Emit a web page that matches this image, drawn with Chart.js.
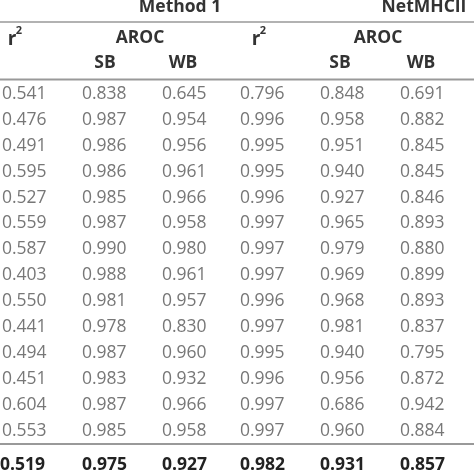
<!DOCTYPE html>
<html><head><meta charset="utf-8">
<script src="https://cdn.jsdelivr.net/npm/chart.js@4"></script>
<style>html,body{margin:0;padding:0;background:#fff}#w{width:474px;height:474px}</style>
</head><body><div id="w"><canvas id="c"></canvas></div>
<script>
const columns = ["r2_m1","SB_m1","WB_m1","r2_net","SB_net","WB_net"];
const r2M1 = [0.541,0.476,0.491,0.595,0.527,0.559,0.587,0.403,0.550,0.441,0.494,0.451,0.604,0.553];
const sbM1 = [0.838,0.987,0.986,0.986,0.985,0.987,0.990,0.988,0.981,0.978,0.987,0.983,0.987,0.985];
const wbM1 = [0.645,0.954,0.956,0.961,0.966,0.958,0.980,0.961,0.957,0.830,0.960,0.932,0.966,0.958];
const r2Net = [0.796,0.996,0.995,0.995,0.996,0.997,0.997,0.997,0.996,0.997,0.995,0.996,0.997,0.997];
const sbNet = [0.848,0.958,0.951,0.940,0.927,0.965,0.979,0.969,0.968,0.981,0.940,0.956,0.686,0.960];
const wbNet = [0.691,0.882,0.845,0.845,0.846,0.893,0.880,0.899,0.893,0.837,0.795,0.872,0.942,0.884];
const meanRow = [0.519,0.975,0.927,0.982,0.931,0.857];
const series = [r2M1,sbM1,wbM1,r2Net,sbNet,wbNet];

const colX = [2,82,162,240,320,400];
const datasets = series.map((s,ci)=>({
  label: columns[ci],
  data: s.map((v,ri)=>({x:colX[ci],y:ri,t:v.toFixed(3),b:false}))
    .concat([{x:colX[ci]-(ci===0?2:0),y:14.32,t:meanRow[ci].toFixed(3),b:true}]),
  pointRadius:0, showLine:false
}));

const FONT = '"Open Sans", sans-serif';
const plugin = {
  id:'tbl',
  afterDraw(chart){
    const ctx = chart.ctx, xs = chart.scales.x, ys = chart.scales.y;
    const X=v=>xs.getPixelForValue(v), Y=v=>ys.getPixelForValue(v);
    ctx.save();
    ctx.strokeStyle='#999';
    [[-2.74,1.5],[-0.52,2],[13.55,2]].forEach(([v,w])=>{
      ctx.lineWidth=w; ctx.beginPath(); ctx.moveTo(X(0),Y(v)); ctx.lineTo(X(474),Y(v)); ctx.stroke();
    });
    ctx.textBaseline='middle';
    chart.data.datasets.forEach(ds=>ds.data.forEach(p=>{
      ctx.font=(p.b?'bold 17.5px ':'17.5px ')+FONT;
      ctx.fillStyle=p.b?'#222':'#777';
      ctx.textAlign='left';
      ctx.fillText(p.t,X(p.x),Y(p.y)+1);
    }));
    ctx.fillStyle='#333'; ctx.textAlign='center';
    ctx.font='bold 17.5px '+FONT;
    ctx.fillText('Method 1',X(180),Y(-3.32));
    ctx.fillText('NetMHCII',X(424),Y(-3.32));
    ctx.fillText('AROC',X(140),Y(-2.12));
    ctx.fillText('AROC',X(378),Y(-2.12));
    ctx.fillText('SB',X(105),Y(-1.16));
    ctx.fillText('WB',X(183),Y(-1.16));
    ctx.fillText('SB',X(340),Y(-1.16));
    ctx.fillText('WB',X(421),Y(-1.16));
    [12,256].forEach(cx=>{
      ctx.font='bold 19px '+FONT; ctx.fillText('r',X(cx),Y(-2.05));
      ctx.font='bold 11px '+FONT; ctx.fillText('2',X(cx+7),Y(-2.4));
    });
    ctx.restore();
  }
};

new Chart(document.getElementById('c'),{
  type:'scatter',
  data:{datasets},
  options:{
    responsive:true, maintainAspectRatio:false, animation:false,
    layout:{padding:0},
    plugins:{legend:{display:false},tooltip:{enabled:false}},
    scales:{
      x:{type:'linear',min:0,max:474,display:false},
      y:{type:'linear',min:-3.59,max:14.71,reverse:true,display:false}
    }
  },
  plugins:[plugin]
});
</script></body></html>
